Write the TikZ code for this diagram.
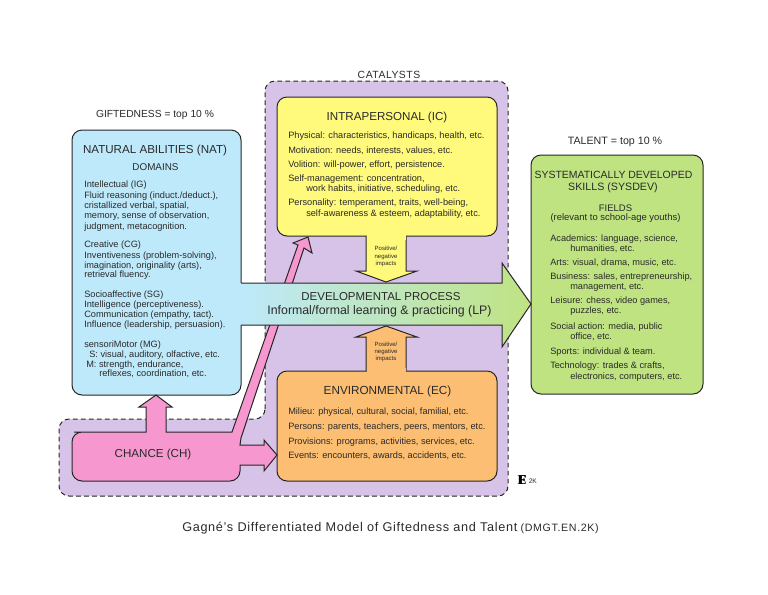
\documentclass[tikz,border=0pt]{standalone}
\usepackage{fontspec}
\setmainfont{Liberation Sans}
\newfontfamily\logofont{Liberation Serif}
\definecolor{cpurple}{HTML}{D7C3E8}
\definecolor{cblue}{HTML}{BEE9FB}
\definecolor{cyellow}{HTML}{FFF97C}
\definecolor{corange}{HTML}{FBBE72}
\definecolor{cgreen}{HTML}{BFE381}
\definecolor{cpink}{HTML}{F797CF}
\definecolor{cink}{HTML}{2A2A2A}
\newcommand{\fsz}[1]{\fontsize{#1}{#1}\selectfont}
\tikzset{
  outline/.style={draw=black!85,line width=0.75pt,line join=miter},
  panel/.style={outline,rounded corners=7.5pt},
  tline/.style={anchor=base west,inner sep=0pt,text=cink,font=\fsz{6.9}},
  head/.style={anchor=center,inner sep=0pt,text=cink,font=\fsz{8.7}},
  sub/.style={anchor=center,inner sep=0pt,text=cink,font=\fsz{7.1}},
  tiny/.style={anchor=center,inner sep=0pt,text=cink,font=\fsz{4.5}},
}
\begin{document}
\begin{tikzpicture}[x=0.75pt,y=-0.75pt]
\useasboundingbox (0,0) rectangle (768,594);
% catalyst region
\draw[fill=cpurple,draw=black!85,line width=0.75pt,dash pattern=on 3.5pt off 2.5pt,rounded corners=7.5pt]
  (265,419) -- (265,81) -- (508,81) -- (508,496) -- (59,496) -- (59,419) -- cycle;
% panels
\draw[panel,fill=cblue] (72,130) rectangle (241,395);
\draw[panel,fill=cyellow] (277,97) rectangle (497,236);
\draw[panel,fill=corange] (277,371) rectangle (497,481);
\draw[panel,fill=cgreen] (531,155) rectangle (703,394);
% impact arrows
\draw[outline,fill=cyellow] (366,236) -- (366,271) -- (356,271) -- (386,282) -- (417,271) -- (406,271) -- (406,236);
\fill[cyellow] (366.5,230) rectangle (405.5,240);
\draw[outline,fill=corange] (366,371) -- (366,337) -- (356,337) -- (386,326) -- (417,337) -- (406,337) -- (406,371);
\fill[corange] (366.5,368) rectangle (405.5,375);
% chance shape
\draw[outline,fill=cpink]
  [rounded corners=7.5pt] (146,432) -- (84,432) -- (72,432) -- (72,481) -- (240,481)
  [sharp corners] -- (240,465) -- (264,465) -- (264,471) -- (277,455) -- (264,440) -- (264,445) -- (240,445)
  -- (241,438) -- (304,248) -- (312,253) -- (308,237) -- (293,243) -- (298,245) -- (232,432) -- (166,432)
  -- (166,407) -- (172,407) -- (156,395) -- (139,407) -- (146,407) -- cycle;
% developmental arrow
\shade[left color=cblue,right color=cgreen]
  (240.5,283) -- (502,283) -- (502,263) -- (531,304) -- (502,347) -- (502,325) -- (240.5,325) -- cycle;
\draw[outline] (241,283) -- (502,283) -- (502,263) -- (531,304) -- (502,347) -- (502,325) -- (241,325);
% headers
\node[sub,font=\fsz{7.7}] (gift) at (155,115) {GIFTEDNESS = top 10 \%};
\node[sub,font=\fsz{7.8}\addfontfeature{LetterSpace=5}] (cata) at (389,75) {CATALYSTS};
\node[sub,font=\fsz{8}] (tal) at (615,142) {TALENT = top 10 \%};
% NAT
\node[head] (nat) at (155,150) {NATURAL ABILITIES (NAT)};
\node[sub,font=\fsz{7.4}] (dom) at (155.5,167.5) {DOMAINS};
\node[tline] (a1) at (84,187) {Intellectual (IG)};
\node[tline] (a2) at (84,198) {Fluid reasoning (induct./deduct.),};
\node[tline] (a3) at (84,208) {cristallized verbal, spatial,};
\node[tline] (a4) at (84,218) {memory, sense of observation,};
\node[tline] (a5) at (84,229) {judgment, metacognition.};
\node[tline] (a6) at (84,247) {Creative (CG)};
\node[tline] (a7) at (84,258) {Inventiveness (problem-solving),};
\node[tline] (a8) at (84,268) {imagination, originality (arts),};
\node[tline] (a9) at (84,277) {retrieval fluency.};
\node[tline] (a10) at (84,297) {Socioaffective (SG)};
\node[tline] (a11) at (84,307) {Intelligence (perceptiveness).};
\node[tline] (a12) at (84,317) {Communication (empathy, tact).};
\node[tline] (a13) at (84,327) {Influence (leadership, persuasion).};
\node[tline] (a14) at (84,347) {sensoriMotor (MG)};
\node[tline] (a15) at (89,357) {S: visual, auditory, olfactive, etc.};
\node[tline] (a16) at (86,367) {M: strength, endurance,};
\node[tline] (a17) at (99,376) {reflexes, coordination, etc.};
% IC
\node[head] (ic) at (387,117) {INTRAPERSONAL (IC)};
\node[tline] (b1) at (288,138) {Physical: characteristics, handicaps, health, etc.};
\node[tline] (b2) at (288,153) {Motivation: needs, interests, values, etc.};
\node[tline] (b3) at (288,167) {Volition: will-power, effort, persistence.};
\node[tline] (b4) at (288,181) {Self-management: concentration,};
\node[tline] (b5) at (306,191) {work habits, initiative, scheduling, etc.};
\node[tline] (b6) at (288,205) {Personality: temperament, traits, well-being,};
\node[tline] (b7) at (306,216) {self-awareness \& esteem, adaptability, etc.};
% EC
\node[head,font=\fsz{8.8}] (ec) at (387.5,391) {ENVIRONMENTAL (EC)};
\node[tline] (c1) at (288,414) {Milieu: physical, cultural, social, familial, etc.};
\node[tline] (c2) at (288,429) {Persons: parents, teachers, peers, mentors, etc.};
\node[tline] (c3) at (288,444) {Provisions: programs, activities, services, etc.};
\node[tline] (c4) at (288,458) {Events: encounters, awards, accidents, etc.};
% SYSDEV
\node[head,font=\fsz{7.85}] (s1) at (613.5,174.5) {SYSTEMATICALLY DEVELOPED};
\node[head,font=\fsz{8}] (s2) at (613,187.5) {SKILLS (SYSDEV)};
\node[sub] (s3) at (615.5,208.5) {FIELDS};
\node[sub] (s4) at (615.5,218.5) {(relevant to school-age youths)};
\node[tline] (d1) at (550,241) {Academics: language, science,};
\node[tline] (d2) at (570,251) {humanities, etc.};
\node[tline] (d3) at (550,265) {Arts: visual, drama, music, etc.};
\node[tline] (d4) at (550,279) {Business: sales, entrepreneurship,};
\node[tline] (d5) at (570,289) {management, etc.};
\node[tline] (d6) at (550,303) {Leisure: chess, video games,};
\node[tline] (d7) at (570,313) {puzzles, etc.};
\node[tline] (d8) at (550,329) {Social action: media, public};
\node[tline] (d9) at (570,339) {office, etc.};
\node[tline] (d10) at (550,354) {Sports: individual \& team.};
\node[tline] (d11) at (550,368) {Technology: trades \& crafts,};
\node[tline] (d12) at (570,379) {electronics, computers, etc.};
% process
\node[head,font=\fsz{8.6}] (p1) at (381,296.5) {DEVELOPMENTAL PROCESS};
\node[head,font=\fsz{9.25}] (p2) at (379.5,311) {Informal/formal learning \& practicing (LP)};
\node[tiny] (u1) at (386,248.5) {Positive/};
\node[tiny] (u2) at (386,256.5) {negative};
\node[tiny] (u3) at (386,264) {impacts};
\node[tiny] (l1) at (386,344) {Positive/};
\node[tiny] (l2) at (386,351.5) {negative};
\node[tiny] (l3) at (386,359) {impacts};
\node[head] (ch) at (153,454.5) {CHANCE (CH)};
% logo
\node[anchor=center,inner sep=0pt,font=\logofont\fsz{10}\bfseries] (logo) at (522,480) {\rlap{\kern0.8pt F}E};
\node[anchor=west,inner sep=0pt,text=cink,font=\fsz{5}] (lk) at (528.5,481) {2K};
% title
\node[anchor=base west,inner sep=0pt,text=cink,font=\fsz{9.5}\addfontfeature{LetterSpace=5.4}] (t1) at (182,531) {Gagné's Differentiated Model of Giftedness and Talent};
\node[anchor=base east,inner sep=0pt,text=cink,font=\fsz{8}\addfontfeature{LetterSpace=6}] (t2) at (599,531) {(DMGT.EN.2K)};
\end{tikzpicture}
\end{document}
